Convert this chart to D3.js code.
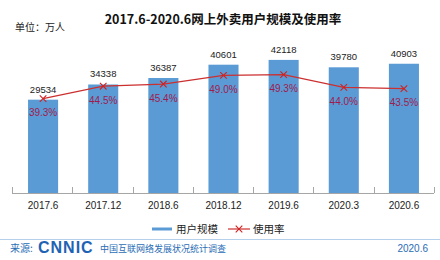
<!DOCTYPE html>
<html>
<head>
<meta charset="utf-8">
<script src="https://cdn.jsdelivr.net/npm/d3@7"></script>
<style>
  body { margin: 0; background: #fff; }
  svg { display: block; }
  .cjk { font-family: "Noto Sans CJK SC", sans-serif; }
  .num { font-family: "Liberation Sans", Arial, sans-serif; }
</style>
</head>
<body>
<div id="chart"></div>
<script>
const periods = ["2017.6", "2017.12", "2018.6", "2018.12", "2019.6", "2020.3", "2020.6"];
const users = [29534, 34338, 36387, 40601, 42118, 39780, 40903];
const rates = [39.3, 44.5, 45.4, 49.0, 49.3, 44.0, 43.5];

const width = 440, height = 260;
const baseY = 193;

const svg = d3.select("#chart")
  .append("svg")
  .attr("width", width)
  .attr("height", height);

const x = d3.scaleBand()
  .domain(periods)
  .range([13, 434])
  .paddingInner(0.5)
  .paddingOuter(0.25);

const y = d3.scaleLinear()
  .domain([0, 50000])
  .range([baseY, 35]);

const y2 = d3.scaleLinear()
  .domain([0, 100])
  .range([baseY, -47]);

// title
svg.append("text")
  .attr("class", "cjk")
  .attr("x", 223)
  .attr("y", 24)
  .attr("text-anchor", "middle")
  .attr("font-size", 12.5)
  .attr("font-weight", "bold")
  .attr("fill", "#111")
  .text("2017.6-2020.6网上外卖用户规模及使用率");

svg.append("text")
  .attr("class", "cjk")
  .attr("x", 15)
  .attr("y", 31)
  .attr("font-size", 10)
  .attr("fill", "#222")
  .text("单位：万人");

// bars
svg.selectAll(".bar")
  .data(periods)
  .enter()
  .append("rect")
  .attr("class", "bar")
  .attr("x", d => x(d))
  .attr("width", x.bandwidth())
  .attr("y", (d, i) => y(users[i]))
  .attr("height", (d, i) => baseY - y(users[i]))
  .attr("fill", "#5b9bd5");

svg.selectAll(".val")
  .data(periods)
  .enter()
  .append("text")
  .attr("class", "num")
  .attr("x", d => x(d) + x.bandwidth() / 2)
  .attr("y", (d, i) => y(users[i]) - 7)
  .attr("text-anchor", "middle")
  .attr("font-size", 9.5)
  .attr("fill", "#222")
  .text((d, i) => users[i]);

// x axis, ticks pointing up at band edges
const axisLeft = 13, axisRight = 434;
svg.append("line")
  .attr("x1", axisLeft - 1).attr("x2", axisRight)
  .attr("y1", baseY + 0.5).attr("y2", baseY + 0.5)
  .attr("stroke", "#a6a6a6");

const edges = d3.range(periods.length + 1).map(i => axisLeft - 1 + i * (axisRight - axisLeft + 1) / periods.length);
svg.selectAll(".tick")
  .data(edges)
  .enter()
  .append("line")
  .attr("x1", d => Math.round(d) + 0.5).attr("x2", d => Math.round(d) + 0.5)
  .attr("y1", baseY - 6).attr("y2", baseY)
  .attr("stroke", "#a6a6a6");

svg.selectAll(".xlab")
  .data(periods)
  .enter()
  .append("text")
  .attr("class", "num")
  .attr("x", d => x(d) + x.bandwidth() / 2)
  .attr("y", 209)
  .attr("text-anchor", "middle")
  .attr("font-size", 10)
  .attr("fill", "#222")
  .text(d => d);

// rate line
const line = d3.line()
  .x((d, i) => x(periods[i]) + x.bandwidth() / 2)
  .y(d => y2(d));

svg.append("path")
  .datum(rates)
  .attr("d", line)
  .attr("fill", "none")
  .attr("stroke", "#cc2f2f")
  .attr("stroke-width", 1.2);

const cross = d3.symbol().type(d3.symbolX).size(30);
svg.selectAll(".mk")
  .data(rates)
  .enter()
  .append("path")
  .attr("d", cross)
  .attr("transform", (d, i) => `translate(${x(periods[i]) + x.bandwidth() / 2},${y2(d)})`)
  .attr("fill", "none")
  .attr("stroke", "#d02020")
  .attr("stroke-width", 1.1);

svg.selectAll(".rate")
  .data(rates)
  .enter()
  .append("text")
  .attr("class", "num")
  .attr("x", (d, i) => x(periods[i]) + x.bandwidth() / 2)
  .attr("y", d => y2(d) + 17.5)
  .attr("text-anchor", "middle")
  .attr("font-size", 10)
  .attr("fill", "#9e1c4e")
  .text(d => d.toFixed(1) + "%");

// legend
const legY = 229;
svg.append("line")
  .attr("x1", 152).attr("x2", 172)
  .attr("y1", legY).attr("y2", legY)
  .attr("stroke", "#5b9bd5").attr("stroke-width", 3);
svg.append("text")
  .attr("class", "cjk")
  .attr("x", 176).attr("y", legY + 4)
  .attr("font-size", 10.5).attr("fill", "#222")
  .text("用户规模");
svg.append("line")
  .attr("x1", 228).attr("x2", 250)
  .attr("y1", legY).attr("y2", legY)
  .attr("stroke", "#cc2f2f").attr("stroke-width", 1.2);
svg.append("path")
  .attr("d", cross)
  .attr("transform", `translate(239,${legY})`)
  .attr("fill", "none")
  .attr("stroke", "#d02020")
  .attr("stroke-width", 1.1);
svg.append("text")
  .attr("class", "cjk")
  .attr("x", 253).attr("y", legY + 4)
  .attr("font-size", 10.5).attr("fill", "#222")
  .text("使用率");

// footer
svg.append("line")
  .attr("x1", 0).attr("x2", width)
  .attr("y1", 239.5).attr("y2", 239.5)
  .attr("stroke", "#b4d0ea");
svg.append("text")
  .attr("class", "cjk")
  .attr("x", 10).attr("y", 252)
  .attr("font-size", 10).attr("fill", "#2a6db5")
  .text("来源:");
svg.append("text")
  .attr("class", "num")
  .attr("x", 38).attr("y", 253)
  .attr("font-size", 16).attr("font-weight", "bold")
  .attr("letter-spacing", 1)
  .attr("fill", "#1f63b4")
  .text("CNNIC");
svg.append("text")
  .attr("class", "cjk")
  .attr("x", 100).attr("y", 252)
  .attr("font-size", 9).attr("fill", "#2a6db5")
  .text("中国互联网络发展状况统计调查");
svg.append("text")
  .attr("class", "num")
  .attr("x", 428).attr("y", 252)
  .attr("text-anchor", "end")
  .attr("font-size", 10).attr("fill", "#2a6db5")
  .text("2020.6");
</script>
</body>
</html>
